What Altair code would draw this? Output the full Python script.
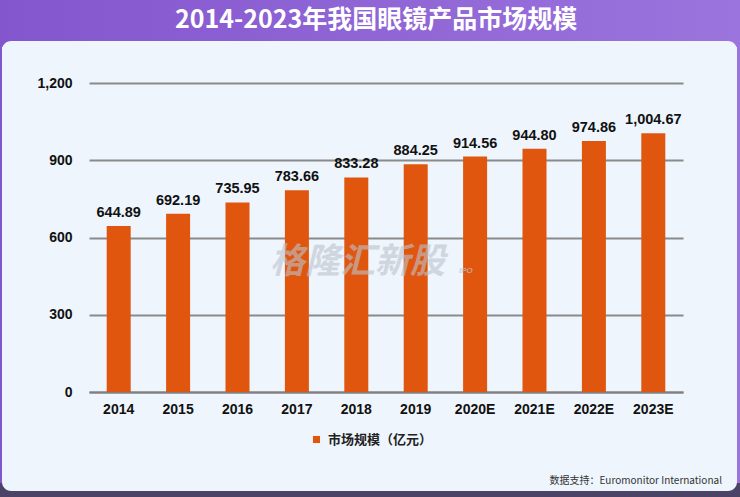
import altair as alt
import pandas as pd

# Market size of eyewear products in China (100 million yuan)
years = ["2014", "2015", "2016", "2017", "2018", "2019", "2020E", "2021E", "2022E", "2023E"]
values = [644.89, 692.19, 735.95, 783.66, 833.28, 884.25, 914.56, 944.80, 974.86, 1004.67]
series_name = "市场规模（亿元）"
title_text = "2014-2023年我国眼镜产品市场规模"
source_text = "数据支持：Euromonitor International"
watermark_text = "格隆汇新股"

ORANGE = "#E0560F"
PANEL = "#EEF5FC"
PURPLE_A = "#8456CE"
PURPLE_B = "#9B74DD"
DARK = "#4C4466"
NUM_FONT = "Liberation Sans"
CJK_FONT = "Noto Sans CJK SC"

W, H = 594, 309
PAD = {"left": 89, "top": 83, "right": 57, "bottom": 105}

df = pd.DataFrame({"year": years, "value": values, "series": [series_name] * len(years)})
one = pd.DataFrame({"k": [0]})

# frame pieces around the plot area
header = alt.Chart(one).mark_rect(
    color=alt.Gradient(gradient="linear", x1=0, x2=1, y1=0, y2=0,
                       stops=[alt.GradientStop(color=PURPLE_A, offset=0),
                              alt.GradientStop(color=PURPLE_B, offset=1)])
).encode(x=alt.value(-89), x2=alt.value(651), y=alt.value(-83), y2=alt.value(-36))

bottom_strip = alt.Chart(one).mark_rect(color=DARK).encode(
    x=alt.value(-89), x2=alt.value(651), y=alt.value(398), y2=alt.value(414))

left_edge = alt.Chart(one).mark_rect(color=PURPLE_A).encode(
    x=alt.value(-89), x2=alt.value(-87), y=alt.value(-83), y2=alt.value(400))
right_edge = alt.Chart(one).mark_rect(color=PURPLE_B).encode(
    x=alt.value(648), x2=alt.value(651), y=alt.value(-83), y2=alt.value(400))

panel_top = alt.Chart(one).mark_rect(color=PANEL, cornerRadius=9).encode(
    x=alt.value(-87), x2=alt.value(648), y=alt.value(-42), y2=alt.value(-10))
panel_bottom = alt.Chart(one).mark_rect(color=PANEL, cornerRadius=9).encode(
    x=alt.value(-87), x2=alt.value(648), y=alt.value(380), y2=alt.value(408))

title = alt.Chart(pd.DataFrame({"t": [title_text]})).mark_text(
    font=CJK_FONT, fontSize=25, fontWeight="bold", color="white",
    align="center", baseline="middle"
).encode(x=alt.value(287), y=alt.value(-63), text="t:N")

watermark = alt.Chart(pd.DataFrame({"t": [watermark_text]})).mark_text(
    font=CJK_FONT, fontSize=35, fontWeight="bold", fontStyle="italic",
    color="#BCC3CC", opacity=0.6, align="left", baseline="middle"
).encode(x=alt.value(181), y=alt.value(179), text="t:N")
watermark_ipo = alt.Chart(pd.DataFrame({"t": ["IPO"]})).mark_text(
    font=NUM_FONT, fontSize=8, fontWeight="bold", fontStyle="italic",
    color="#BCC3CC", opacity=0.7, align="left", baseline="middle"
).encode(x=alt.value(370), y=alt.value(188), text="t:N")

source = alt.Chart(pd.DataFrame({"t": [source_text]})).mark_text(
    font=CJK_FONT, fontSize=10, color="#333333", align="right", baseline="middle"
).encode(x=alt.value(633), y=alt.value(398), text="t:N")

x_enc = alt.X("year:N", sort=years, title=None,
              scale=alt.Scale(paddingInner=0.6, paddingOuter=0.3),
              axis=alt.Axis(labelAngle=0, labelFont=NUM_FONT, labelFontSize=14,
                            labelFontWeight="bold", labelColor="#111111",
                            labelPadding=10, ticks=False, domainColor="#808080",
                            domainWidth=2, grid=False))
y_enc = alt.Y("value:Q", title=None,
              scale=alt.Scale(domain=[0, 1200], nice=False),
              axis=alt.Axis(values=[0, 300, 600, 900, 1200], format=",d",
                            labelFont=NUM_FONT, labelFontSize=14, labelFontWeight="bold",
                            labelColor="#111111", labelPadding=17, ticks=False,
                            domain=False, gridColor="#8A8A8A", gridWidth=2))

bars = alt.Chart(df).mark_bar(size=24).encode(
    x=x_enc, y=y_enc,
    color=alt.Color("series:N",
                    scale=alt.Scale(domain=[series_name], range=[ORANGE]),
                    legend=alt.Legend(title=None, orient="none", legendX=221, legendY=350,
                                      symbolType="square", symbolSize=50,
                                      symbolStrokeWidth=0, labelFont=CJK_FONT,
                                      labelFontSize=13, labelFontWeight="bold",
                                      labelColor="#222222", labelOffset=5))
)

labels = alt.Chart(df).mark_text(
    font=NUM_FONT, fontSize=14.5, fontWeight="bold", color="#111111",
    baseline="bottom", dy=-6
).encode(x=alt.X("year:N", sort=years), y="value:Q", text=alt.Text("value:Q", format=",.2f"))

chart = alt.layer(
    header, bottom_strip, left_edge, right_edge, panel_top, panel_bottom,
    title, bars, labels, watermark, watermark_ipo, source
).properties(
    width=W, height=H, padding=PAD, background=PANEL,
    autosize=alt.AutoSizeParams(type="none")
).configure_view(stroke=None)

chart.save("out.html", embed_options={"renderer": "svg", "actions": False})
